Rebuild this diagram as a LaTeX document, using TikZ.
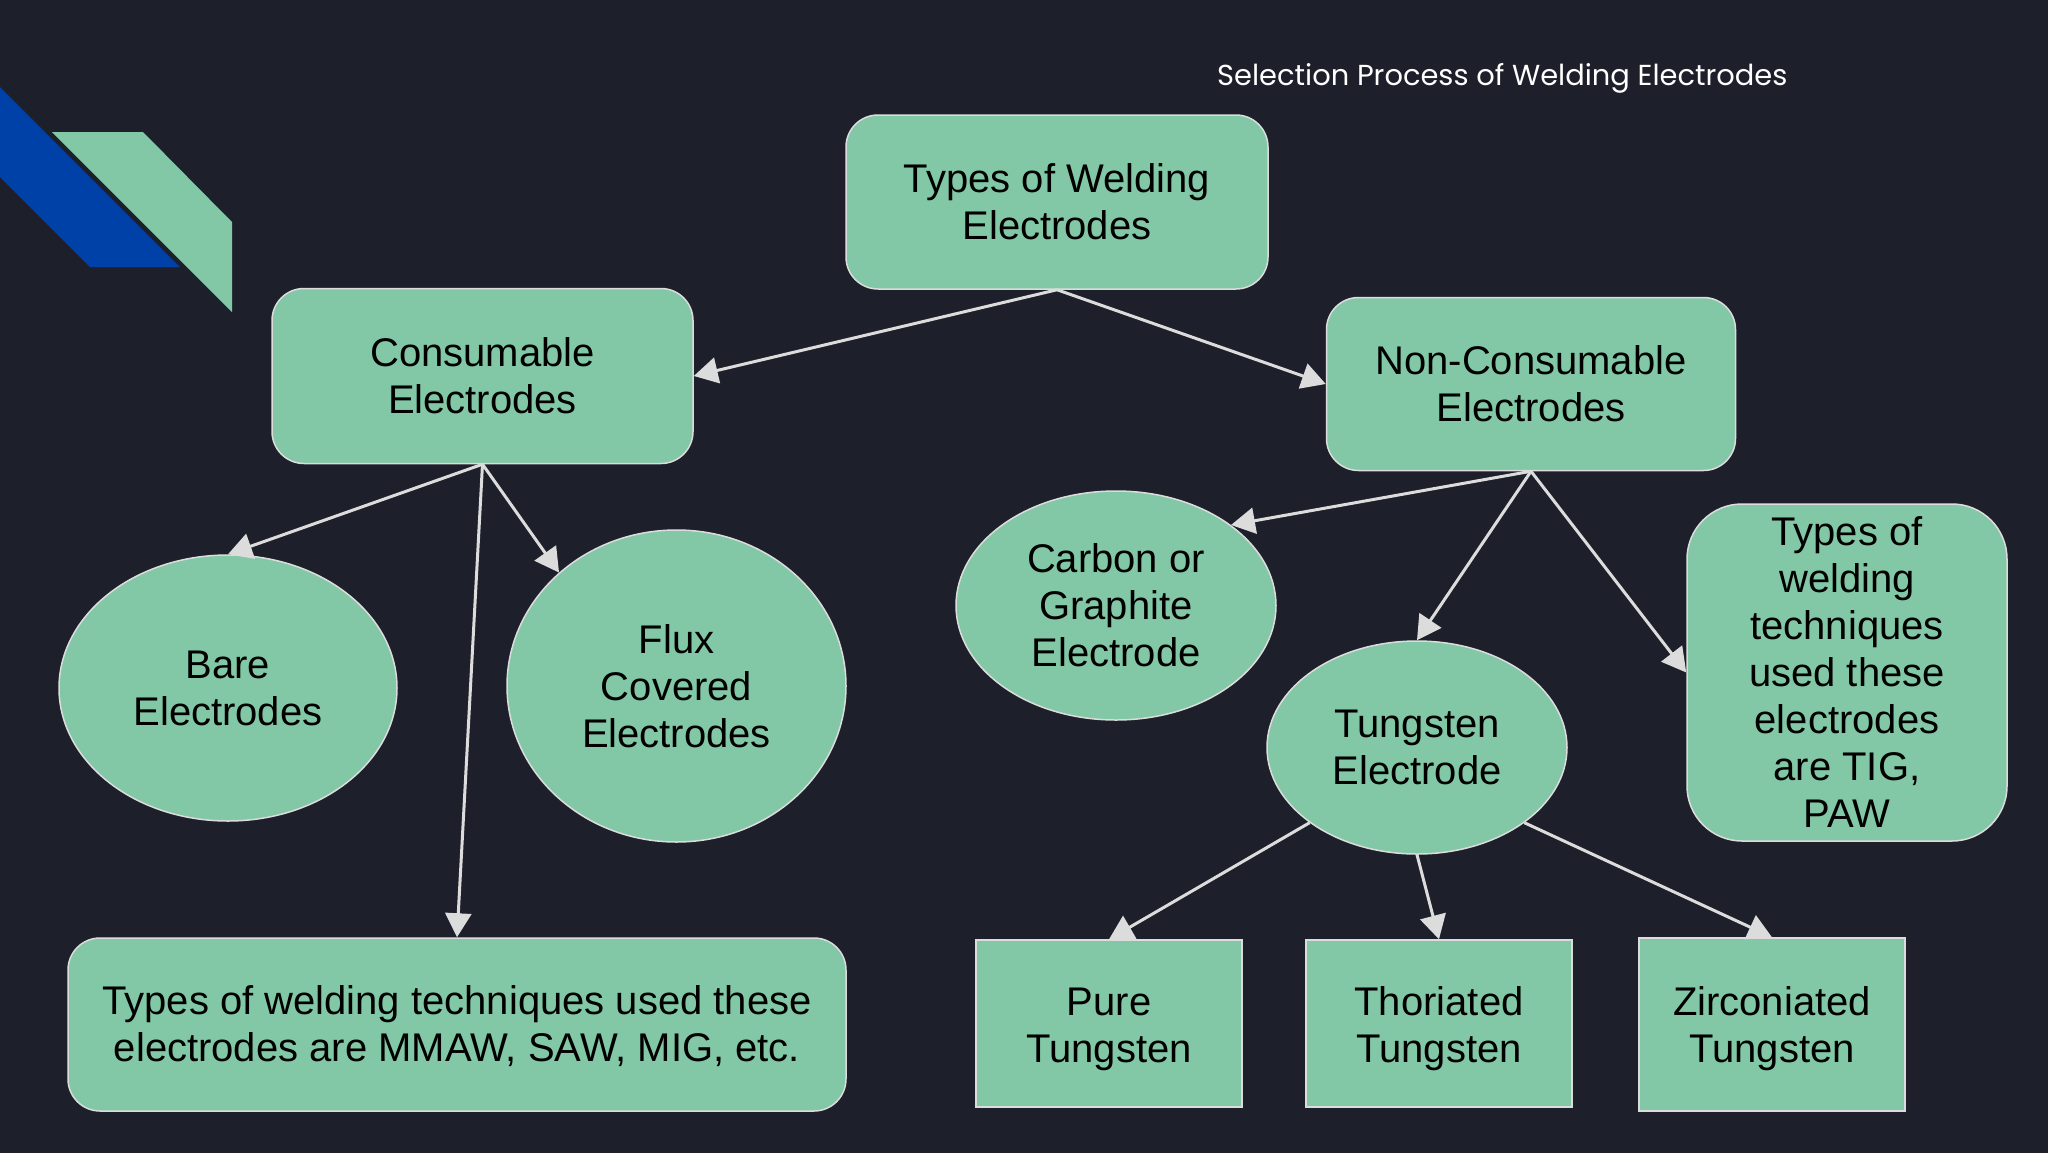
\documentclass[tikz,border=0pt]{standalone}
\usepackage{fontspec}
\setmainfont{Liberation Sans}
\newfontfamily\titlefont{Poppins}
\usetikzlibrary{shapes.geometric,arrows.meta}
\definecolor{bgc}{HTML}{1D1F2A}
\definecolor{grn}{HTML}{82C8A6}
\definecolor{blu}{HTML}{0041A8}
\definecolor{lnc}{HTML}{DCDCDC}
\newcommand{\lowtext}[2]{\raisebox{-#1}[\height][\depth]{\begin{tabular}{@{}c@{}}#2\end{tabular}}}
\tikzset{
  base/.style={fill=grn, draw=lnc, line width=1.5pt, inner sep=0pt, align=center, text=black,
    font=\fontsize{40}{47}\selectfont},
  rbox/.style={base, rectangle, rounded corners=32pt},
  sbox/.style={base, rectangle},
  ell/.style={base, ellipse},
  conn/.style={draw=lnc, line width=3pt, -{Triangle[length=24pt,width=26pt]}}
}
\begin{document}
\begin{tikzpicture}[x=1pt,y=-1pt]
\useasboundingbox (0,0) rectangle (2048,1152);
\fill[bgc] (-10,-10) rectangle (2058,1162);
% decoration
\fill[blu] (0,87) -- (180,267) -- (90,267) -- (0,177) -- cycle;
\fill[grn] (52,132) -- (143,132) -- (232,222) -- (232,312) -- cycle;
% title
\node[text=white, font=\titlefont\fontsize{28.9}{34}\selectfont, anchor=west, inner sep=0pt] (title) at (1217,78) {Selection Process of Welding Electrodes};
% nodes
\node[rbox, minimum width=422pt, minimum height=174pt] (top) at (1057,202) {Types of Welding\\Electrodes};
\node[rbox, minimum width=421pt, minimum height=175pt] (cons) at (482.5,376) {Consumable\\Electrodes};
\node[rbox, minimum width=409pt, minimum height=173pt] (ncons) at (1531,384) {Non-Consumable\\Electrodes};
\node[ell, minimum width=338pt, minimum height=266pt] (bare) at (228,688) {Bare\\Electrodes};
\node[ell, minimum width=339pt, minimum height=312pt] (flux) at (676.5,686) {Flux\\Covered\\Electrodes};
\node[rbox, minimum width=778pt, minimum height=173pt] (mmaw) at (457,1024.5) {\lowtext{4pt}{Types of welding techniques used these\\electrodes are MMAW, SAW, MIG, etc.}};
\node[ell, minimum width=320pt, minimum height=229pt] (carbon) at (1116,605.5) {Carbon or\\Graphite\\Electrode};
\node[ell, minimum width=300pt, minimum height=213pt] (tung) at (1417,747.5) {Tungsten\\Electrode};
\node[rbox, rounded corners=55pt, minimum width=320pt, minimum height=337pt] (tig) at (1847,672.5) {Types of\\welding\\techniques\\used these\\electrodes\\are TIG,\\PAW};
\node[sbox, minimum width=266pt, minimum height=167pt] (pure) at (1109,1023.5) {\lowtext{6pt}{Pure\\Tungsten}};
\node[sbox, minimum width=266pt, minimum height=167pt] (thor) at (1439,1023.5) {\lowtext{6pt}{Thoriated\\Tungsten}};
\node[sbox, minimum width=266pt, minimum height=173pt] (zirc) at (1772,1024.5) {\lowtext{5pt}{Zirconiated\\Tungsten}};
% connectors
\draw[conn] (top.south) -- (cons.east);
\draw[conn] (top.south) -- (ncons.west);
\draw[conn] (cons.south) -- (bare.north);
\draw[conn] (cons.south) -- (flux.136);
\draw[conn] (cons.south) -- (mmaw.north);
\draw[conn] (ncons.south) -- (carbon.35);
\draw[conn] (ncons.south) -- (tung.north);
\draw[conn] (ncons.south) -- (tig.west);
\draw[conn] (tung.215) -- (pure.north);
\draw[conn] (tung.south) -- (thor.north);
\draw[conn] (tung.325) -- (zirc.north);
\end{tikzpicture}
\end{document}
